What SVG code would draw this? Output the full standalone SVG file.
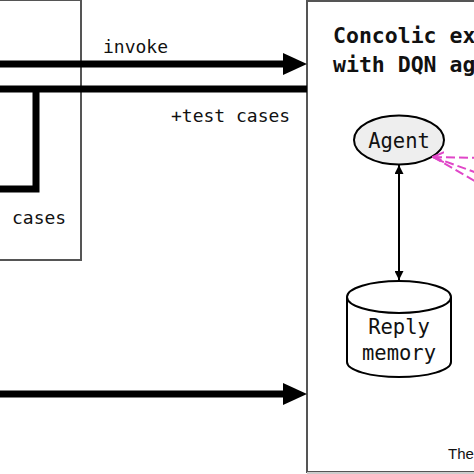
<svg xmlns="http://www.w3.org/2000/svg" width="474" height="474" viewBox="0 0 474 474">
<defs>
<style>
.box{fill:none;stroke:#555;stroke-width:2}
.thick{fill:none;stroke:#000;stroke-width:7}
.lbl{font-family:"DejaVu Sans Mono","Liberation Mono",monospace;font-size:18px;fill:#111}
.title{font-family:"DejaVu Sans Mono","Liberation Mono",monospace;font-size:21.5px;font-weight:bold;fill:#111}
.node{font-family:"DejaVu Sans Mono","Liberation Mono",monospace;font-size:20.5px;fill:#111;text-anchor:middle}
.pink{fill:none;stroke:#e046c8;stroke-width:2;stroke-dasharray:9 4}
</style>
<marker id="small" viewBox="0 0 10 10" refX="10" refY="5" markerWidth="9" markerHeight="9" markerUnits="userSpaceOnUse" orient="auto-start-reverse">
<path d="M0,0 L10,5 L0,10 Z" fill="#000"/>
</marker>
<marker id="open" viewBox="0 0 12 12" refX="1" refY="6" markerWidth="12" markerHeight="12" markerUnits="userSpaceOnUse" orient="auto">
<path d="M12,1 L1,6 L12,11" fill="none" stroke="#e046c8" stroke-width="2"/>
</marker>
</defs>
<rect width="474" height="474" fill="#fff"/>
<g id="left-box">
<rect class="box" x="-10" y="0" width="91" height="260" stroke="#666"/>
<text class="lbl" x="12" y="224">cases</text>
</g>
<g id="concolic-box">
<rect class="box" x="307" y="1" width="180" height="471"/>
<line x1="307" y1="473" x2="474" y2="473" stroke="#ccc" stroke-width="2"/>
<text class="title" x="333" y="43">Concolic ex</text>
<text class="title" x="333" y="72">with DQN ag</text>
<text x="448" y="459" font-family="'Liberation Sans',Arial,sans-serif" font-size="15" fill="#111">The</text>
</g>
<g id="agent">
<ellipse cx="399" cy="140" rx="45" ry="24.5" fill="#eee" stroke="#000" stroke-width="2"/>
<text class="node" x="399" y="148">Agent</text>
</g>
<g id="reply-memory">
<path d="M347,297 L347,362 A52,15 0 0 0 451,362 L451,297" fill="#fff" stroke="#000" stroke-width="2"/>
<ellipse cx="399" cy="297" rx="52" ry="16" fill="#fff" stroke="#000" stroke-width="2"/>
<text class="node" x="399" y="334">Reply</text>
<text class="node" x="399" y="360">memory</text>
</g>
<g id="connectors">
<line class="thick" x1="0" y1="64" x2="285" y2="64"/>
<path d="M283,53 L307,64 L283,75 Z" fill="#000"/>
<text class="lbl" x="103" y="53">invoke</text>
<line class="thick" x1="0" y1="89" x2="307" y2="89"/>
<path class="thick" d="M0,189 L36,189 L36,89"/>
<text class="lbl" x="171" y="122">+test cases</text>
<line class="thick" x1="0" y1="394" x2="285" y2="394"/>
<path d="M283,383 L307,394 L283,405 Z" fill="#000"/>
<line x1="399" y1="165" x2="399" y2="280" stroke="#000" stroke-width="2" marker-start="url(#small)" marker-end="url(#small)"/>
<line class="pink" x1="433" y1="157" x2="480" y2="158" marker-start="url(#open)"/>
<line class="pink" x1="433" y1="157" x2="480" y2="174"/>
<line class="pink" x1="433" y1="157" x2="480" y2="184"/>
</g>
</svg>
